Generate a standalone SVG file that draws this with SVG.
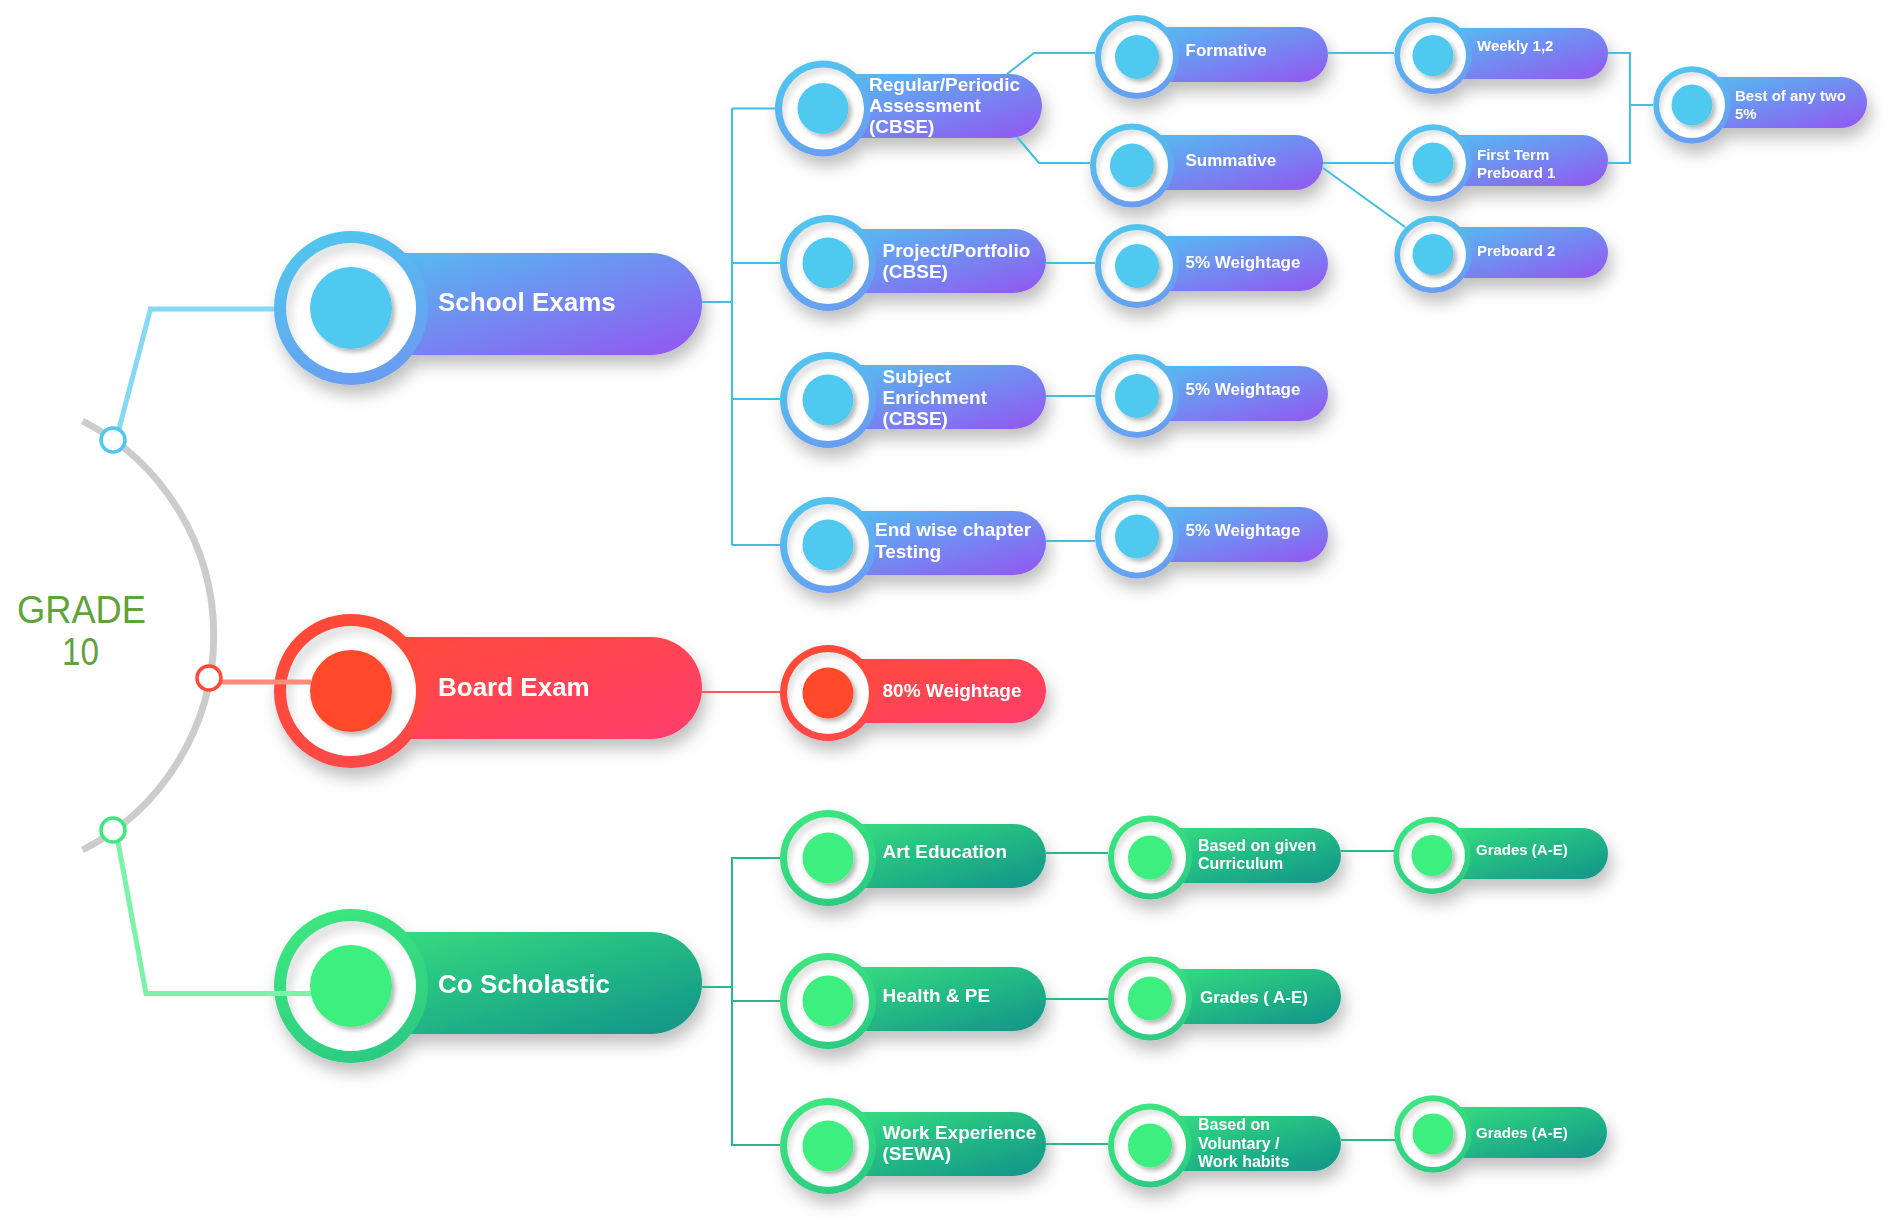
<svg xmlns="http://www.w3.org/2000/svg" width="1904" height="1230" viewBox="0 0 1904 1230">
<defs>
  <linearGradient id="gBlue" x1="0" y1="0" x2="1" y2="1">
    <stop offset="0" stop-color="#50c2f0"/>
    <stop offset="1" stop-color="#9455f2"/>
  </linearGradient>
  <linearGradient id="gBlueRing" x1="0.2" y1="0" x2="0.6" y2="1">
    <stop offset="0" stop-color="#4ec8ee"/>
    <stop offset="1" stop-color="#6a9cf1"/>
  </linearGradient>
  <linearGradient id="gRed" x1="0" y1="0" x2="1" y2="1">
    <stop offset="0" stop-color="#ff4c38"/>
    <stop offset="1" stop-color="#ff3d6e"/>
  </linearGradient>
  <linearGradient id="gRedRing" x1="0.2" y1="0" x2="0.6" y2="1">
    <stop offset="0" stop-color="#ff4a35"/>
    <stop offset="1" stop-color="#ff4848"/>
  </linearGradient>
  <linearGradient id="gGreen" x1="0" y1="0" x2="1" y2="1">
    <stop offset="0" stop-color="#38e07f"/>
    <stop offset="1" stop-color="#0f938a"/>
  </linearGradient>
  <linearGradient id="gGreenRing" x1="0.2" y1="0" x2="0.6" y2="1">
    <stop offset="0" stop-color="#3de87f"/>
    <stop offset="1" stop-color="#2ccb82"/>
  </linearGradient>
  <radialGradient id="gWhite" cx="0.56" cy="0.58" r="0.55">
    <stop offset="0.85" stop-color="#ffffff"/>
    <stop offset="1" stop-color="#e6e6e6"/>
  </radialGradient>
  <filter id="sh" x="-20%" y="-30%" width="150%" height="180%">
    <feDropShadow dx="4" dy="10" stdDeviation="8" flood-color="#000" flood-opacity="0.25"/>
  </filter>
  <filter id="ish" x="-30%" y="-30%" width="170%" height="170%">
    <feDropShadow dx="3" dy="3" stdDeviation="2.5" flood-color="#000" flood-opacity="0.3"/>
  </filter>
  <style>
    text { font-family: "Liberation Sans", Arial, sans-serif; font-weight: bold; fill: #ffffff; }
    .t1 { font-size: 26px; }
    .t2 { font-size: 19px; }
    .t3 { font-size: 17px; }
    .t3s { font-size: 16px; }
    .t4 { font-size: 15px; }
    .pb { fill: url(#gBlue); }
    .pr { fill: url(#gRed); }
    .pg { fill: url(#gGreen); }
    .rb { fill: url(#gBlueRing); }
    .rr { fill: url(#gRedRing); }
    .rg { fill: url(#gGreenRing); }
    .w { fill: url(#gWhite); }
    .ib { fill: #4fc9f0; }
    .ir { fill: #ff4a2b; }
    .ig { fill: #3cef7f; }
    .lb { fill: none; stroke: #3ebfe3; stroke-width: 2; }
    .lr { fill: none; stroke: #ff5858; stroke-width: 2; }
    .lg { fill: none; stroke: #27b98a; stroke-width: 2; }
    .grade { font-family: "Liberation Sans", Arial, sans-serif; font-weight: normal; fill: #5fa33c; font-size: 39px; }
  </style>
</defs>
<rect width="1904" height="1230" fill="#ffffff"/>

<g id="grade-10">
  <text class="grade" x="17" y="623" textLength="129" lengthAdjust="spacingAndGlyphs">GRADE</text>
  <text class="grade" x="62" y="665" textLength="37" lengthAdjust="spacingAndGlyphs">10</text>
</g>

<!-- Main nodes -->
<g id="school-exams" filter="url(#sh)">
  <rect class="pb" x="351" y="253" width="351" height="102" rx="51"/>
  <circle class="rb" cx="351" cy="308" r="77"/>
  <circle class="w" cx="351" cy="308" r="65"/>
  <circle class="ib" cx="351" cy="308" r="41" filter="url(#ish)"/>
  <text class="t1" x="438" y="311">School Exams</text>
</g>
<g id="board-exam" filter="url(#sh)">
  <rect class="pr" x="351" y="637" width="351" height="102" rx="51"/>
  <circle class="rr" cx="351" cy="691" r="77"/>
  <circle class="w" cx="351" cy="691" r="65"/>
  <circle class="ir" cx="351" cy="691" r="41" filter="url(#ish)"/>
  <text class="t1" x="438" y="696">Board Exam</text>
</g>
<g id="co-scholastic" filter="url(#sh)">
  <rect class="pg" x="351" y="932" width="351" height="102" rx="51"/>
  <circle class="rg" cx="351" cy="986" r="77"/>
  <circle class="w" cx="351" cy="986" r="65"/>
  <circle class="ig" cx="351" cy="986" r="41" filter="url(#ish)"/>
  <text class="t1" x="438" y="993">Co Scholastic</text>
</g>

<!-- Level 2 -->
<g id="regular-periodic" filter="url(#sh)">
  <rect class="pb" x="823" y="74" width="219" height="64" rx="32"/>
  <circle class="rb" cx="823" cy="108.5" r="48"/>
  <circle class="w" cx="823" cy="108.5" r="41"/>
  <circle class="ib" cx="823" cy="108.5" r="25.5" filter="url(#ish)"/>
  <text class="t2"><tspan x="869" y="91">Regular/Periodic</tspan><tspan x="869" y="112">Assessment</tspan><tspan x="869" y="133">(CBSE)</tspan></text>
</g>
<g id="project-portfolio" filter="url(#sh)">
  <rect class="pb" x="828" y="229" width="218" height="64" rx="32"/>
  <circle class="rb" cx="828" cy="263" r="48"/>
  <circle class="w" cx="828" cy="263" r="41"/>
  <circle class="ib" cx="828" cy="263" r="25.5" filter="url(#ish)"/>
  <text class="t2"><tspan x="882.5" y="257">Project/Portfolio</tspan><tspan x="882.5" y="277.5">(CBSE)</tspan></text>
</g>
<g id="subject-enrichment" filter="url(#sh)">
  <rect class="pb" x="828" y="365" width="218" height="64" rx="32"/>
  <circle class="rb" cx="828" cy="400" r="48"/>
  <circle class="w" cx="828" cy="400" r="41"/>
  <circle class="ib" cx="828" cy="400" r="25.5" filter="url(#ish)"/>
  <text class="t2"><tspan x="882.5" y="383">Subject</tspan><tspan x="882.5" y="404">Enrichment</tspan><tspan x="882.5" y="425">(CBSE)</tspan></text>
</g>
<g id="end-wise-chapter" filter="url(#sh)">
  <rect class="pb" x="828" y="511" width="218" height="64" rx="32"/>
  <circle class="rb" cx="828" cy="545" r="48"/>
  <circle class="w" cx="828" cy="545" r="41"/>
  <circle class="ib" cx="828" cy="545" r="25.5" filter="url(#ish)"/>
  <text class="t2"><tspan x="875" y="536">End wise chapter</tspan><tspan x="875" y="557.5">Testing</tspan></text>
</g>
<g id="weightage-80" filter="url(#sh)">
  <rect class="pr" x="828" y="659" width="218" height="64" rx="32"/>
  <circle class="rr" cx="828" cy="693" r="48"/>
  <circle class="w" cx="828" cy="693" r="41"/>
  <circle class="ir" cx="828" cy="693" r="25.5" filter="url(#ish)"/>
  <text class="t2" x="882.5" y="697">80% Weightage</text>
</g>
<g id="art-education" filter="url(#sh)">
  <rect class="pg" x="828" y="824" width="218" height="64" rx="32"/>
  <circle class="rg" cx="828" cy="858" r="48"/>
  <circle class="w" cx="828" cy="858" r="41"/>
  <circle class="ig" cx="828" cy="858" r="25.5" filter="url(#ish)"/>
  <text class="t2" x="882.5" y="857.5">Art Education</text>
</g>
<g id="health-pe" filter="url(#sh)">
  <rect class="pg" x="828" y="967" width="218" height="64" rx="32"/>
  <circle class="rg" cx="828" cy="1001" r="48"/>
  <circle class="w" cx="828" cy="1001" r="41"/>
  <circle class="ig" cx="828" cy="1001" r="25.5" filter="url(#ish)"/>
  <text class="t2" x="882.5" y="1002">Health &amp; PE</text>
</g>
<g id="work-experience" filter="url(#sh)">
  <rect class="pg" x="828" y="1112" width="218" height="64" rx="32"/>
  <circle class="rg" cx="828" cy="1146" r="48"/>
  <circle class="w" cx="828" cy="1146" r="41"/>
  <circle class="ig" cx="828" cy="1146" r="25.5" filter="url(#ish)"/>
  <text class="t2"><tspan x="882.5" y="1139">Work Experience</tspan><tspan x="882.5" y="1160">(SEWA)</tspan></text>
</g>

<!-- Level 3 -->
<g id="formative" filter="url(#sh)">
  <rect class="pb" x="1137" y="27" width="191" height="55" rx="27.5"/>
  <circle class="rb" cx="1137" cy="57" r="42"/>
  <circle class="w" cx="1137" cy="57" r="36"/>
  <circle class="ib" cx="1137" cy="57" r="22" filter="url(#ish)"/>
  <text class="t3" x="1185.5" y="56">Formative</text>
</g>
<g id="summative" filter="url(#sh)">
  <rect class="pb" x="1132" y="135" width="191" height="55" rx="27.5"/>
  <circle class="rb" cx="1132" cy="165.5" r="42"/>
  <circle class="w" cx="1132" cy="165.5" r="36"/>
  <circle class="ib" cx="1132" cy="165.5" r="22" filter="url(#ish)"/>
  <text class="t3" x="1185.5" y="166">Summative</text>
</g>
<g id="weightage-5-project" filter="url(#sh)">
  <rect class="pb" x="1137" y="236" width="191" height="55" rx="27.5"/>
  <circle class="rb" cx="1137" cy="266" r="42"/>
  <circle class="w" cx="1137" cy="266" r="36"/>
  <circle class="ib" cx="1137" cy="266" r="22" filter="url(#ish)"/>
  <text class="t3" x="1185.5" y="268">5% Weightage</text>
</g>
<g id="weightage-5-subject" filter="url(#sh)">
  <rect class="pb" x="1137" y="366" width="191" height="55" rx="27.5"/>
  <circle class="rb" cx="1137" cy="396" r="42"/>
  <circle class="w" cx="1137" cy="396" r="36"/>
  <circle class="ib" cx="1137" cy="396" r="22" filter="url(#ish)"/>
  <text class="t3" x="1185.5" y="395">5% Weightage</text>
</g>
<g id="weightage-5-endwise" filter="url(#sh)">
  <rect class="pb" x="1137" y="507" width="191" height="55" rx="27.5"/>
  <circle class="rb" cx="1137" cy="536.5" r="42"/>
  <circle class="w" cx="1137" cy="536.5" r="36"/>
  <circle class="ib" cx="1137" cy="536.5" r="22" filter="url(#ish)"/>
  <text class="t3" x="1185.5" y="536">5% Weightage</text>
</g>
<g id="based-on-curriculum" filter="url(#sh)">
  <rect class="pg" x="1150" y="828" width="191" height="55" rx="27.5"/>
  <circle class="rg" cx="1150" cy="857.5" r="42"/>
  <circle class="w" cx="1150" cy="857.5" r="36"/>
  <circle class="ig" cx="1150" cy="857.5" r="22" filter="url(#ish)"/>
  <text class="t3s"><tspan x="1198" y="851">Based on given</tspan><tspan x="1198" y="868.5">Curriculum</tspan></text>
</g>
<g id="grades-health" filter="url(#sh)">
  <rect class="pg" x="1150" y="969" width="191" height="55" rx="27.5"/>
  <circle class="rg" cx="1150" cy="998.5" r="42"/>
  <circle class="w" cx="1150" cy="998.5" r="36"/>
  <circle class="ig" cx="1150" cy="998.5" r="22" filter="url(#ish)"/>
  <text class="t3" x="1200" y="1003">Grades ( A-E)</text>
</g>
<g id="based-on-voluntary" filter="url(#sh)">
  <rect class="pg" x="1150" y="1116" width="191" height="55" rx="27.5"/>
  <circle class="rg" cx="1150" cy="1145.5" r="42"/>
  <circle class="w" cx="1150" cy="1145.5" r="36"/>
  <circle class="ig" cx="1150" cy="1145.5" r="22" filter="url(#ish)"/>
  <text class="t3s"><tspan x="1198" y="1130">Based on</tspan><tspan x="1198" y="1148.5">Voluntary /</tspan><tspan x="1198" y="1167">Work habits</tspan></text>
</g>

<!-- Level 4 -->
<g id="weekly" filter="url(#sh)">
  <rect class="pb" x="1433" y="28" width="175" height="51" rx="25.5"/>
  <circle class="rb" cx="1433" cy="55.5" r="38.7"/>
  <circle class="w" cx="1433" cy="55.5" r="33"/>
  <circle class="ib" cx="1433" cy="55.5" r="20.5" filter="url(#ish)"/>
  <text class="t4" x="1477" y="51">Weekly 1,2</text>
</g>
<g id="first-term" filter="url(#sh)">
  <rect class="pb" x="1433" y="135" width="175" height="51" rx="25.5"/>
  <circle class="rb" cx="1433" cy="163" r="38.7"/>
  <circle class="w" cx="1433" cy="163" r="33"/>
  <circle class="ib" cx="1433" cy="163" r="20.5" filter="url(#ish)"/>
  <text class="t4"><tspan x="1477" y="160">First Term</tspan><tspan x="1477" y="177.5">Preboard 1</tspan></text>
</g>
<g id="preboard-2" filter="url(#sh)">
  <rect class="pb" x="1433" y="227" width="175" height="51" rx="25.5"/>
  <circle class="rb" cx="1433" cy="254.5" r="38.7"/>
  <circle class="w" cx="1433" cy="254.5" r="33"/>
  <circle class="ib" cx="1433" cy="254.5" r="20.5" filter="url(#ish)"/>
  <text class="t4" x="1477" y="256">Preboard 2</text>
</g>
<g id="best-of-two" filter="url(#sh)">
  <rect class="pb" x="1692" y="77" width="175" height="51" rx="25.5"/>
  <circle class="rb" cx="1692" cy="105" r="38.7"/>
  <circle class="w" cx="1692" cy="105" r="33"/>
  <circle class="ib" cx="1692" cy="105" r="20.5" filter="url(#ish)"/>
  <text class="t4"><tspan x="1735" y="101">Best of any two</tspan><tspan x="1735" y="119">5%</tspan></text>
</g>
<g id="grades-art" filter="url(#sh)">
  <rect class="pg" x="1432" y="828" width="176" height="51" rx="25.5"/>
  <circle class="rg" cx="1432" cy="855.5" r="38.7"/>
  <circle class="w" cx="1432" cy="855.5" r="33"/>
  <circle class="ig" cx="1432" cy="855.5" r="20.5" filter="url(#ish)"/>
  <text class="t4" x="1476" y="854.5">Grades (A-E)</text>
</g>
<g id="grades-work" filter="url(#sh)">
  <rect class="pg" x="1433" y="1107" width="174" height="51" rx="25.5"/>
  <circle class="rg" cx="1433" cy="1134" r="38.7"/>
  <circle class="w" cx="1433" cy="1134" r="33"/>
  <circle class="ig" cx="1433" cy="1134" r="20.5" filter="url(#ish)"/>
  <text class="t4" x="1476" y="1138">Grades (A-E)</text>
</g>

<!-- Connectors -->
<g id="connectors">
  <path d="M 82.6 421 A 241 241 0 0 1 82.6 850" fill="none" stroke="#cccccc" stroke-width="7"/>
  <path d="M 119 429 L 150.5 309 H 274" fill="none" stroke="#86d9f4" stroke-width="5"/>
  <path d="M 221 682 H 311" fill="none" stroke="#ff8a78" stroke-width="5"/>
  <path d="M 118 842 L 146 993.5 H 311" fill="none" stroke="#7bf3a6" stroke-width="5"/>

  <path class="lb" d="M 702 302 H 732 M 732 108 V 545 M 732 108.5 H 775 M 732 263 H 780 M 732 399 H 780 M 732 545 H 780"/>
  <path class="lb" d="M 1007 74 L 1034 53 H 1095"/>
  <path class="lb" d="M 1017 137 L 1039 163 H 1090"/>
  <path class="lb" d="M 1046 263 H 1095 M 1046 396 H 1095 M 1046 541 H 1095"/>
  <path class="lb" d="M 1327 53 H 1394 M 1323 163 H 1394"/>
  <path class="lb" d="M 1323 168 L 1405 227"/>
  <path class="lb" d="M 1608 53 H 1630 V 163 H 1608 M 1630 105 H 1653"/>

  <path class="lr" d="M 702 692 H 780"/>

  <path class="lg" d="M 702 987 H 732 M 732 857 V 1146 M 732 858 H 780 M 732 1001 H 780 M 732 1145 H 780"/>
  <path class="lg" d="M 1046 853 H 1108 M 1046 999 H 1108 M 1046 1144 H 1108"/>
  <path class="lg" d="M 1341 851 H 1394 M 1341 1140 H 1395"/>

  <circle cx="113" cy="440" r="12" fill="#ffffff" stroke="#4ec8ee" stroke-width="3.5"/>
  <circle cx="209" cy="678" r="12" fill="#ffffff" stroke="#ff4a35" stroke-width="3.5"/>
  <circle cx="113" cy="830" r="12" fill="#ffffff" stroke="#3de880" stroke-width="3.5"/>
</g>
</svg>
